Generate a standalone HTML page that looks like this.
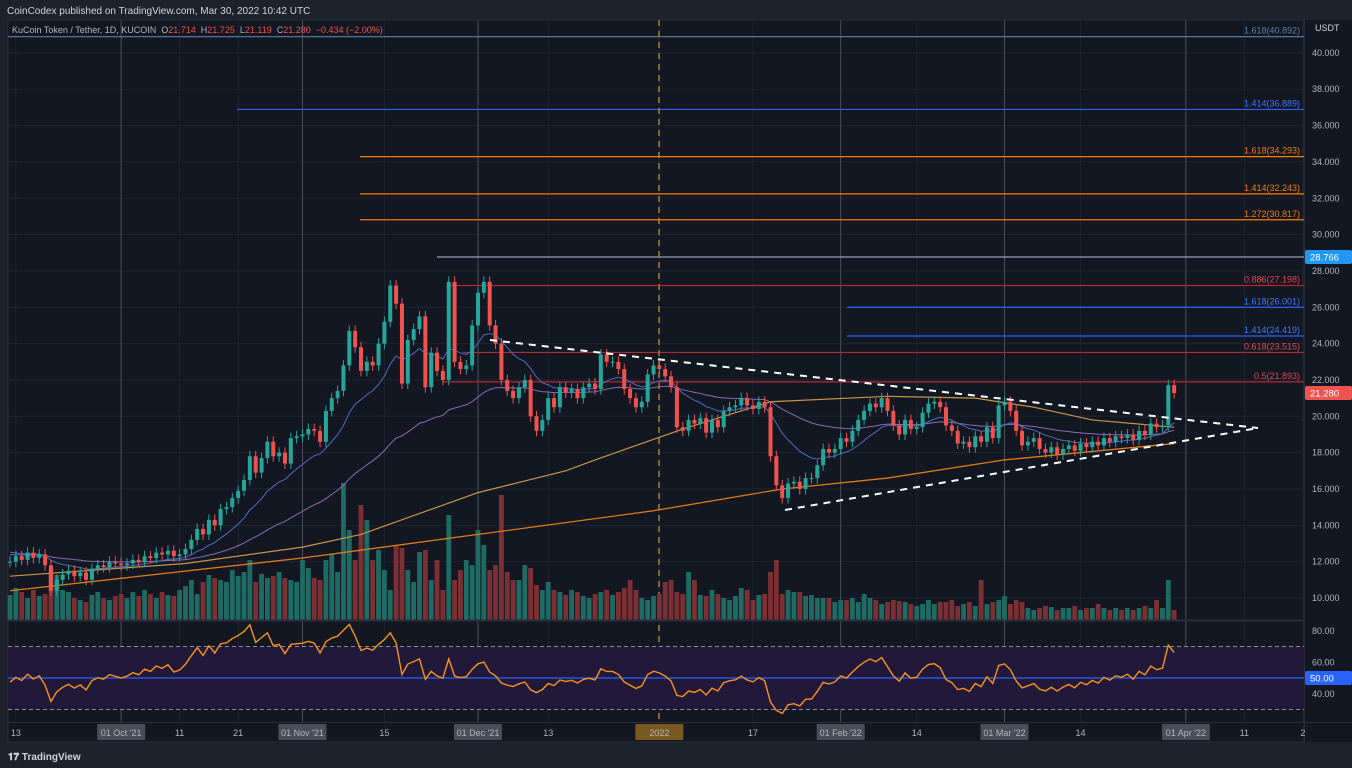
<!DOCTYPE html>
<html><head><meta charset="utf-8"><style>
html,body{margin:0;padding:0;background:#1e222d;width:1352px;height:768px;overflow:hidden;font-family:"Liberation Sans",sans-serif}
svg{position:absolute;left:0;top:0}
</style></head><body>
<svg id="c" width="1352" height="768" font-family="Liberation Sans, sans-serif"></svg>
<script>
const closes=[12.0,12.3,12.1,12.5,12.2,12.4,11.8,10.4,11.0,11.3,
11.5,11.2,11.4,11.0,11.6,11.8,11.7,12.0,11.9,11.8,
11.9,12.1,12.0,12.3,12.2,12.5,12.4,12.6,12.3,12.4,
12.7,13.2,13.8,13.5,14.3,14.0,14.9,15.0,15.5,15.9,
16.5,17.8,16.9,17.7,18.6,17.8,18.0,17.4,18.8,18.9,
19.0,19.3,19.2,18.6,20.3,21.0,21.4,22.8,24.7,23.8,
22.5,23.0,22.8,24.0,25.2,27.2,26.2,21.8,24.2,24.8,
25.5,21.6,23.5,22.5,22.0,27.4,23.0,22.6,22.8,25.0,
26.8,27.4,25.0,24.0,22.0,21.4,21.0,21.6,22.0,20.0,
19.2,19.8,21.0,20.5,21.6,21.3,21.5,21.0,21.6,21.8,
21.5,23.4,23.0,23.0,22.6,21.5,21.0,20.5,20.8,22.3,
22.8,22.6,22.2,21.6,19.4,19.2,19.8,19.6,19.9,19.1,
19.8,19.4,20.3,20.5,20.6,21.0,20.6,20.4,20.8,20.5,
17.8,16.2,15.5,16.3,16.4,16.0,16.6,16.6,17.3,18.2,
18.0,18.2,18.8,18.6,19.2,19.8,20.3,20.7,20.5,21.0,
20.3,19.5,19.0,19.8,19.3,19.4,20.2,20.7,20.8,20.5,
19.5,19.2,18.5,18.6,18.3,18.9,18.6,19.4,18.8,20.6,
20.8,20.3,19.2,18.4,18.6,18.8,18.2,18.0,18.3,17.9,
18.2,18.4,18.1,18.5,18.3,18.6,18.4,18.8,18.6,18.9,
18.8,19.0,18.7,19.2,19.0,19.6,19.4,19.5,21.714,21.28];
const volumes=[25,32,28,22,30,24,26,50,45,30,28,22,20,18,25,28,22,20,24,26,
22,28,24,30,26,22,28,25,24,30,34,40,26,38,45,42,40,38,50,44,
48,60,38,46,42,44,48,42,40,38,60,52,42,40,60,66,48,137,90,60,
115,100,60,70,50,30,75,72,50,38,68,70,40,60,30,105,40,50,60,55,
90,75,50,55,125,48,40,40,55,52,35,30,38,30,28,25,30,28,24,22,
26,28,30,25,28,32,40,30,22,20,24,26,38,40,28,26,48,40,25,24,
30,26,22,20,24,32,30,20,25,26,48,60,26,30,28,28,24,25,22,22,
22,18,20,20,22,18,26,22,20,16,18,20,19,18,16,14,16,20,16,18,
18,20,14,16,18,14,40,16,18,20,24,16,20,18,12,10,12,14,13,10,
12,12,14,10,12,12,16,12,10,12,10,12,10,12,14,12,20,12,40,10];
const ma100Idx=[0,30,50,60,80,95,100,115,130,150,165,175,185,199];
const ma100Val=[11.2,11.9,12.8,13.5,15.8,17.0,17.6,19.3,20.8,21.1,21.0,20.5,19.8,19.4];
const ma200Idx=[0,50,80,110,132,150,170,199];
const ma200Val=[10.4,12.2,13.5,14.8,16.0,16.6,17.6,18.5];
const priceTicks=[10,12,14,16,18,20,22,24,26,28,30,32,34,36,38,40];
const rsiTicks=[80,60,40];
const fibPrices=[40.892,36.889,34.293,32.243,30.817,28.766,27.198,26.001,24.419,23.515,21.893];
const fibLabels=["1.618(40.892)","1.414(36.889)","1.618(34.293)","1.414(32.243)","1.272(30.817)","","0.886(27.198)","1.618(26.001)","1.414(24.419)","0.618(23.515)","0.5(21.893)"];
const fibStart=[8,237,360,360,360,437,450,847,847,463,443];
const fibColor=["#5d7fa8","#2962ff","#f57c00","#f57c00","#f57c00","#8ea1b5","#b22833","#2962ff","#2962ff","#b22833","#b22833"];
const dateLabels=["13","01 Oct '21","11","21","01 Nov '21","15","01 Dec '21","13","2022","17","01 Feb '22","14","01 Mar '22","14","01 Apr '22","11","2"];
const dateIdx=[1,19,29,39,50,64,80,92,111,127,142,155,170,183,201,211,221];

const S=document.getElementById('c');const NS='http://www.w3.org/2000/svg';
function el(t,a,p){const e=document.createElementNS(NS,t);for(const k in a)e.setAttribute(k,a[k]);(p||S).appendChild(e);return e;}
const X=i=>10+5.85*i;
const Y=p=>598-(p-10)*18.17;
const RY=r=>678-(r-50)*1.575;
const VY=v=>620-v;
let e;
e=el('rect',{x:0,y:0,width:1352,height:768,fill:'#1e222d'});
e=el('rect',{x:8,y:20,width:1344,height:722,fill:'#131722'});

e=el('rect',{x:8,y:20,width:1296,height:722,fill:'none',stroke:'#2a2e39'});
priceTicks.forEach(p=>{el('line',{x1:8,x2:1304,y1:Y(p),y2:Y(p),stroke:'#1f2431'});});
dateIdx.forEach((d,k)=>{const month=dateLabels[k].startsWith('01');el('line',{x1:X(d),x2:X(d),y1:20,y2:722,stroke:month?'#4a4e5a':'#1f2431'});});
fibPrices.forEach((p,k)=>{const y=Y(p);
 const l=el('line',{x1:fibStart[k],x2:1304,y1:y,y2:y,stroke:fibColor[k],'stroke-width':1.2});
 
 
 if(fibLabels[k]){const t=el('text',{x:1300,y:y-3,'font-size':9,'text-anchor':'end',fill:fibColor[k]=='#b22833'?'#e04a52':fibColor[k]=='#2962ff'?'#3b7bff':fibColor[k]});t.textContent=fibLabels[k];
 
 }
});
e=el('line',{x1:659,x2:659,y1:20,y2:722,stroke:'#a7802d','stroke-width':1.5,'stroke-dasharray':'6,5'});

volumes.forEach((v,i)=>{const o=i?closes[i-1]:closes[i];const up=closes[i]>=o;
 const r=el('rect',{x:X(i)-2.4,y:VY(v),width:4.8,height:v,fill:up?'#1e6b63':'#7c3034'});
 
 });
function path(pts,col,w,name){const p=el('path',{d:'M'+pts.map(q=>q.join(',')).join('L'),fill:'none',stroke:col,'stroke-width':w});
 
 }
path(ma200Idx.map((d,k)=>[X(d),Y(ma200Val[k])]),'#e07b16',1.3,'ma-200-line');
path(ma100Idx.map((d,k)=>[X(d),Y(ma100Val[k])]),'#c79547',1.2,'ma-100-line');
function ema(n,seed){let out=[],a=2/(n+1),m=seed;closes.forEach(c=>{m=a*c+(1-a)*m;out.push(m)});return out;}
const e20=ema(14,12.6),e50=ema(48,12.4);
path(e50.map((v,i)=>[X(i),Y(v)]),'#8a6bb8',1,'ma-50-line');
path(e20.map((v,i)=>[X(i),Y(v)]),'#4a6fc0',1,'ma-20-line');
closes.forEach((c,i)=>{const o=i?closes[i-1]:c;const up=c>=o;const col=up?'#26a69a':'#ef5350';
 const hi=Math.max(o,c)+0.3,lo=Math.min(o,c)-0.3;
 const g=el('g',{});
 
 
 el('line',{x1:X(i),x2:X(i),y1:Y(hi),y2:Y(lo),stroke:col},g);
 const top=Y(Math.max(o,c)),h=Math.max(1,Math.abs(Y(o)-Y(c)));
 el('rect',{x:X(i)-2,y:top,width:4,height:h,fill:col},g);});
e=el('line',{x1:490,y1:340,x2:1258,y2:428,stroke:'#fff','stroke-width':2,'stroke-dasharray':'7,6'});

e=el('line',{x1:785,y1:510,x2:1258,y2:428,stroke:'#fff','stroke-width':2,'stroke-dasharray':'7,6'});

el('line',{x1:8,x2:1352,y1:620.5,y2:620.5,stroke:'#2a2e39','stroke-width':2});
e=el('rect',{x:8,y:RY(70),width:1296,height:RY(30)-RY(70),fill:'#21183a'});

[70,30].forEach(r=>el('line',{x1:8,x2:1304,y1:RY(r),y2:RY(r),stroke:'#8a8e99','stroke-dasharray':'4,3'}));
el('line',{x1:8,x2:1304,y1:RY(50),y2:RY(50),stroke:'#2962ff','stroke-width':1.2});
let ag=0.18,al=0.2,rsi=[];
closes.forEach((c,i)=>{if(!i){rsi.push(100-100/(1+ag/al));return;}const d=c-closes[i-1];const g=Math.max(d,0),l=Math.max(-d,0);
 ag=(ag*13+g)/14;al=(al*13+l)/14;
 rsi.push(al==0?70:100-100/(1+ag/al));});
path(rsi.map((v,i)=>[X(i),RY(v)]),'#f7931a',1.4,'rsi-line');
el('rect',{x:1304,y:20,width:48,height:722,fill:'#131722'});
el('line',{x1:1304.5,x2:1304.5,y1:20,y2:742,stroke:'#2a2e39'});
priceTicks.forEach(p=>{const t=el('text',{x:1312,y:Y(p)+3,'font-size':9,fill:'#b2b5be'});t.textContent=p.toFixed(3);
 
 });
rsiTicks.forEach(r=>{const t=el('text',{x:1312,y:RY(r)+3,'font-size':9,fill:'#b2b5be'});t.textContent=r.toFixed(2);
 
 });
function tag(y,txt,bg,name){const g=el('g',{});
 el('rect',{x:1305,y:y-7,width:47,height:14,fill:bg,rx:2},g);const t=el('text',{x:1310,y:y+3.5,'font-size':9.5,fill:'#fff'},g);t.textContent=txt;}
tag(Y(28.766),'28.766','#2196f3','last-high-tag');
tag(Y(21.28),'21.280','#ef5350','last-price-tag');
tag(RY(50),'50.00','#2962ff','rsi-50-tag');
e=el('text',{x:1315,y:31,'font-size':9,fill:'#d1d4dc'});e.textContent='USDT';
el('line',{x1:8,x2:1352,y1:722.5,y2:722.5,stroke:'#2a2e39'});
dateLabels.forEach((s,k)=>{const x=X(dateIdx[k]);const box=s.length>2;
 if(box){el('rect',{x:x-24,y:724,width:48,height:16,fill:s=='2022'?'#7a5a22':'#4a4e5a',rx:1});}
 const t=el('text',{x:x,y:736,'font-size':9,'text-anchor':'middle',fill:'#b2b5be'});t.textContent=s;
 
 });
e=el('text',{x:7,y:14,'font-size':10,fill:'#d1d4dc'});e.textContent='CoinCodex published on TradingView.com, Mar 30, 2022 10:42 UTC';

const hd=el('text',{x:12,y:33,'font-size':9,fill:'#b2b5be'});

hd.innerHTML='KuCoin Token / Tether, 1D, KUCOIN  O<tspan fill="#ef5350">21.714</tspan>  H<tspan fill="#ef5350">21.725</tspan>  L<tspan fill="#ef5350">21.119</tspan>  C<tspan fill="#ef5350">21.280  −0.434 (−2.00%)</tspan>';
hd.setAttribute('xml:space','preserve');hd.style.whiteSpace='pre';
e=el('text',{x:8,y:760,'font-size':10,fill:'#d1d4dc','font-weight':'bold'});e.textContent='𝟏𝟕 TradingView';

</script>
</body></html>
